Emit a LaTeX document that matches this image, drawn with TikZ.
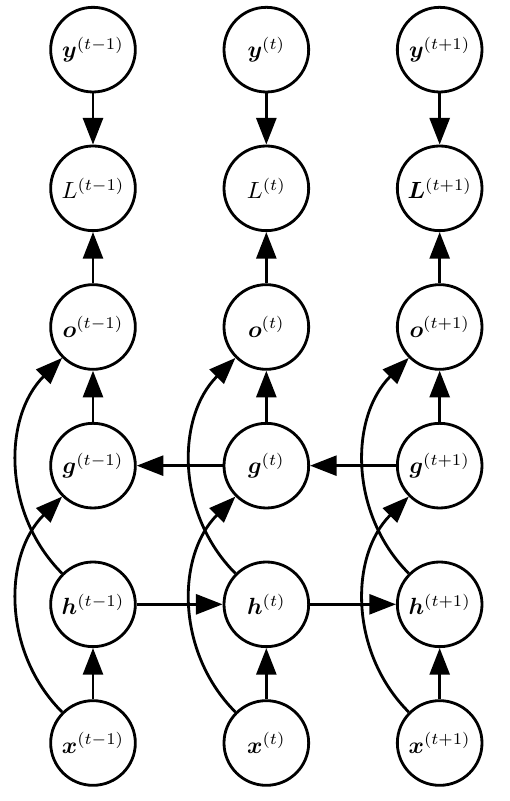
\documentclass[tikz,border=0pt]{standalone}
\usepackage{amsmath}
\usepackage{bm}
\usetikzlibrary{arrows.meta}
\tikzset{
unit/.style={draw=black, line width=1.2pt, circle, minimum size=1.27cm, inner sep=0pt},
link/.style={line width=1.2pt, -{Triangle[length=0.4cm,width=0.3cm]}},
}

\begin{document}
\begin{tikzpicture}
\useasboundingbox (-1.395,-0.87) rectangle (6.24,11.145);

\node[unit] (y1) at (0,10.4) {$\bm{y}^{(t-1)}$};
\node[unit] (y2) at (2.6,10.4) {$\bm{y}^{(t)}$};
\node[unit] (y3) at (5.2,10.4) {$\bm{y}^{(t+1)}$};

\node[unit] (L1) at (0,8.32) {$L^{(t-1)}$};
\node[unit] (L2) at (2.6,8.32) {$L^{(t)}$};
\node[unit] (L3) at (5.2,8.32) {$\bm{L}^{(t+1)}$};

\node[unit] (o1) at (0,6.24) {$\bm{o}^{(t-1)}$};
\node[unit] (o2) at (2.6,6.24) {$\bm{o}^{(t)}$};
\node[unit] (o3) at (5.2,6.24) {$\bm{o}^{(t+1)}$};

\node[unit] (g1) at (0,4.16) {$\bm{g}^{(t-1)}$};
\node[unit] (g2) at (2.6,4.16) {$\bm{g}^{(t)}$};
\node[unit] (g3) at (5.2,4.16) {$\bm{g}^{(t+1)}$};

\node[unit] (h1) at (0,2.08) {$\bm{h}^{(t-1)}$};
\node[unit] (h2) at (2.6,2.08) {$\bm{h}^{(t)}$};
\node[unit] (h3) at (5.2,2.08) {$\bm{h}^{(t+1)}$};

\node[unit] (x1) at (0,0) {$\bm{x}^{(t-1)}$};
\node[unit] (x2) at (2.6,0) {$\bm{x}^{(t)}$};
\node[unit] (x3) at (5.2,0) {$\bm{x}^{(t+1)}$};

% vertical links
\draw[link] (y1) -- (L1);
\draw[link] (y2) -- (L2);
\draw[link] (y3) -- (L3);
\draw[link] (o1) -- (L1);
\draw[link] (o2) -- (L2);
\draw[link] (o3) -- (L3);
\draw[link] (g1) -- (o1);
\draw[link] (g2) -- (o2);
\draw[link] (g3) -- (o3);
\draw[link] (x1) -- (h1);
\draw[link] (x2) -- (h2);
\draw[link] (x3) -- (h3);

% forward and backward states
\draw[link] (h1) -- (h2);
\draw[link] (h2) -- (h3);
\draw[link] (g2) -- (g1);
\draw[link] (g3) -- (g2);

% skip links
\draw[link] (h1) to[bend left=45] (o1);
\draw[link] (h2) to[bend left=45] (o2);
\draw[link] (h3) to[bend left=45] (o3);
\draw[link] (x1) to[bend left=45] (g1);
\draw[link] (x2) to[bend left=45] (g2);
\draw[link] (x3) to[bend left=45] (g3);

\end{tikzpicture}
\end{document}
